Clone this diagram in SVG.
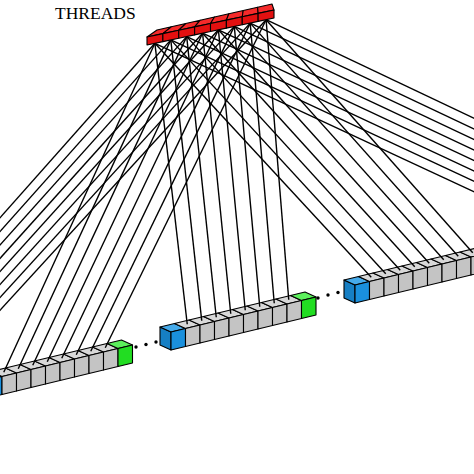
<svg xmlns="http://www.w3.org/2000/svg" xmlns:xlink="http://www.w3.org/1999/xlink" width="474" height="474" viewBox="0 0 474 474">
<style>
.ln{stroke:#000;stroke-width:1.4;fill:none}
.gf{fill:#c4c4c4}.gt{fill:#d8d8d8}
.bf{fill:#1a90dd}.bt{fill:#45aaea}.be{fill:#167fc4}
.ef{fill:#22dd22}.et{fill:#5cf05c}
.rf{fill:#e21010}.rt{fill:#f52a2a}
.s{stroke:#000;stroke-width:1.1;stroke-linejoin:round}
.dot{fill:#000}
.lbl{font-family:"Liberation Serif","DejaVu Serif",serif;font-size:17.5px;fill:#000}
</style>
<defs>
<g id="arr">
<polygon class="be s" vector-effect="non-scaling-stroke" points="0,0 -0.7586,-0.4253 -0.7586,0.5747 0,1"/>
<polygon class="bt s" vector-effect="non-scaling-stroke" points="0,0 1,0 0.2414,-0.4253 -0.7586,-0.4253"/>
<rect class="bf s" vector-effect="non-scaling-stroke" x="0" y="0" width="1" height="1"/>
<polygon class="gt s" vector-effect="non-scaling-stroke" points="1,0 2,0 1.2414,-0.4253 0.2414,-0.4253"/>
<rect class="gf s" vector-effect="non-scaling-stroke" x="1" y="0" width="1" height="1"/>
<polygon class="gt s" vector-effect="non-scaling-stroke" points="2,0 3,0 2.2414,-0.4253 1.2414,-0.4253"/>
<rect class="gf s" vector-effect="non-scaling-stroke" x="2" y="0" width="1" height="1"/>
<polygon class="gt s" vector-effect="non-scaling-stroke" points="3,0 4,0 3.2414,-0.4253 2.2414,-0.4253"/>
<rect class="gf s" vector-effect="non-scaling-stroke" x="3" y="0" width="1" height="1"/>
<polygon class="gt s" vector-effect="non-scaling-stroke" points="4,0 5,0 4.2414,-0.4253 3.2414,-0.4253"/>
<rect class="gf s" vector-effect="non-scaling-stroke" x="4" y="0" width="1" height="1"/>
<polygon class="gt s" vector-effect="non-scaling-stroke" points="5,0 6,0 5.2414,-0.4253 4.2414,-0.4253"/>
<rect class="gf s" vector-effect="non-scaling-stroke" x="5" y="0" width="1" height="1"/>
<polygon class="gt s" vector-effect="non-scaling-stroke" points="6,0 7,0 6.2414,-0.4253 5.2414,-0.4253"/>
<rect class="gf s" vector-effect="non-scaling-stroke" x="6" y="0" width="1" height="1"/>
<polygon class="gt s" vector-effect="non-scaling-stroke" points="7,0 8,0 7.2414,-0.4253 6.2414,-0.4253"/>
<rect class="gf s" vector-effect="non-scaling-stroke" x="7" y="0" width="1" height="1"/>
<polygon class="gt s" vector-effect="non-scaling-stroke" points="8,0 9,0 8.2414,-0.4253 7.2414,-0.4253"/>
<rect class="gf s" vector-effect="non-scaling-stroke" x="8" y="0" width="1" height="1"/>
<polygon class="et s" vector-effect="non-scaling-stroke" points="9,0 10,0 9.2414,-0.4253 8.2414,-0.4253"/>
<rect class="ef s" vector-effect="non-scaling-stroke" x="9" y="0" width="1" height="1"/>
</g>
</defs>

<g id="array1"><use xlink:href="#arr" transform="matrix(14.5,-3.5,0,18,-12.5,380)"/></g>
<g id="array2"><use xlink:href="#arr" transform="matrix(14.5,-3.5,0,18,171,332)"/></g>
<g id="array3"><use xlink:href="#arr" transform="matrix(14.5,-3.5,0,18,355,285)"/></g>

<g id="dots">
<circle class="dot" cx="136" cy="347" r="1.7"/><circle class="dot" cx="146" cy="344.5" r="1.7"/><circle class="dot" cx="156" cy="342" r="1.7"/>
<circle class="dot" cx="318" cy="298" r="1.7"/><circle class="dot" cx="328" cy="295" r="1.7"/><circle class="dot" cx="338" cy="292.5" r="1.7"/>
</g>

<g id="connectors" class="ln">
<line x1="154.9" y1="43.3" x2="-179.75" y2="420.25"/>
<line x1="170.8" y1="39.9" x2="-165.25" y2="416.75"/>
<line x1="186.7" y1="36.6" x2="-150.75" y2="413.25"/>
<line x1="202.6" y1="33.2" x2="-136.25" y2="409.75"/>
<line x1="218.4" y1="29.8" x2="-121.75" y2="406.25"/>
<line x1="234.3" y1="26.4" x2="-107.25" y2="402.75"/>
<line x1="250.2" y1="23.1" x2="-92.75" y2="399.25"/>
<line x1="266.1" y1="19.7" x2="-78.25" y2="395.75"/>
<line x1="154.9" y1="43.3" x2="3.75" y2="372.25"/>
<line x1="170.8" y1="39.9" x2="18.25" y2="368.75"/>
<line x1="186.7" y1="36.6" x2="32.75" y2="365.25"/>
<line x1="202.6" y1="33.2" x2="47.25" y2="361.75"/>
<line x1="218.4" y1="29.8" x2="61.75" y2="358.25"/>
<line x1="234.3" y1="26.4" x2="76.25" y2="354.75"/>
<line x1="250.2" y1="23.1" x2="90.75" y2="351.25"/>
<line x1="266.1" y1="19.7" x2="105.25" y2="347.75"/>
<line x1="154.9" y1="43.3" x2="187.25" y2="324.25"/>
<line x1="170.8" y1="39.9" x2="201.75" y2="320.75"/>
<line x1="186.7" y1="36.6" x2="216.25" y2="317.25"/>
<line x1="202.6" y1="33.2" x2="230.75" y2="313.75"/>
<line x1="218.4" y1="29.8" x2="245.25" y2="310.25"/>
<line x1="234.3" y1="26.4" x2="259.75" y2="306.75"/>
<line x1="250.2" y1="23.1" x2="274.25" y2="303.25"/>
<line x1="266.1" y1="19.7" x2="288.75" y2="299.75"/>
<line x1="154.9" y1="43.3" x2="371.25" y2="277.25"/>
<line x1="170.8" y1="39.9" x2="385.75" y2="273.75"/>
<line x1="186.7" y1="36.6" x2="400.25" y2="270.25"/>
<line x1="202.6" y1="33.2" x2="414.75" y2="266.75"/>
<line x1="218.4" y1="29.8" x2="429.25" y2="263.25"/>
<line x1="234.3" y1="26.4" x2="443.75" y2="259.75"/>
<line x1="250.2" y1="23.1" x2="458.25" y2="256.25"/>
<line x1="266.1" y1="19.7" x2="472.75" y2="252.75"/>
<line x1="154.9" y1="43.3" x2="554.75" y2="229.25"/>
<line x1="170.8" y1="39.9" x2="569.25" y2="225.75"/>
<line x1="186.7" y1="36.6" x2="583.75" y2="222.25"/>
<line x1="202.6" y1="33.2" x2="598.25" y2="218.75"/>
<line x1="218.4" y1="29.8" x2="612.75" y2="215.25"/>
<line x1="234.3" y1="26.4" x2="627.25" y2="211.75"/>
<line x1="250.2" y1="23.1" x2="641.75" y2="208.25"/>
<line x1="266.1" y1="19.7" x2="656.25" y2="204.75"/>
</g>

<g id="threads">
<polygon class="rt s" points="147,37 162.875,33.625 171.375,26.75 157,30"/>
<polygon class="rt s" points="162.875,33.625 178.75,30.25 185.75,23.5 171.375,26.75"/>
<polygon class="rt s" points="178.75,30.25 194.625,26.875 200.125,20.25 185.75,23.5"/>
<polygon class="rt s" points="194.625,26.875 210.5,23.5 214.5,17 200.125,20.25"/>
<polygon class="rt s" points="210.5,23.5 226.375,20.125 228.875,13.75 214.5,17"/>
<polygon class="rt s" points="226.375,20.125 242.25,16.75 243.25,10.5 228.875,13.75"/>
<polygon class="rt s" points="242.25,16.75 258.125,13.375 257.625,7.25 243.25,10.5"/>
<polygon class="rt s" points="258.125,13.375 274,10 272,4 257.625,7.25"/>
<polygon class="rf s" points="147,37 162.875,33.625 162.875,41.625 147,45"/>
<polygon class="rf s" points="162.875,33.625 178.75,30.25 178.75,38.25 162.875,41.625"/>
<polygon class="rf s" points="178.75,30.25 194.625,26.875 194.625,34.875 178.75,38.25"/>
<polygon class="rf s" points="194.625,26.875 210.5,23.5 210.5,31.5 194.625,34.875"/>
<polygon class="rf s" points="210.5,23.5 226.375,20.125 226.375,28.125 210.5,31.5"/>
<polygon class="rf s" points="226.375,20.125 242.25,16.75 242.25,24.75 226.375,28.125"/>
<polygon class="rf s" points="242.25,16.75 258.125,13.375 258.125,21.375 242.25,24.75"/>
<polygon class="rf s" points="258.125,13.375 274,10 274,18 258.125,21.375"/>
</g>

<g id="label"><text class="lbl" x="55" y="19">THREADS</text></g>
</svg>
